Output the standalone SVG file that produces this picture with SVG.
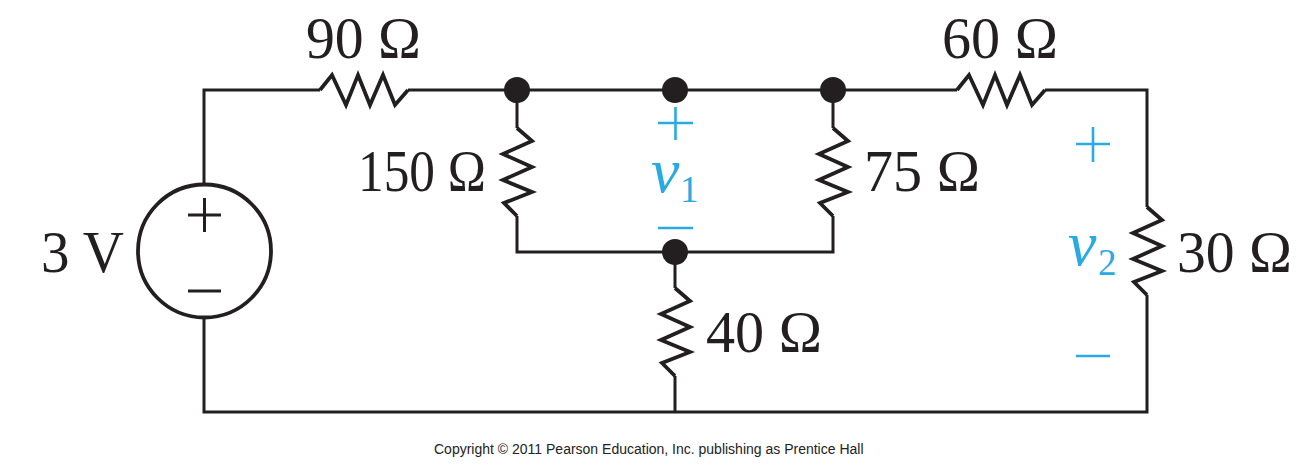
<svg xmlns="http://www.w3.org/2000/svg" width="1299" height="468" viewBox="0 0 1299 468">
<style>
.w{fill:none;stroke:#231f20;stroke-width:3}
.z{fill:none;stroke:#231f20;stroke-width:3.8;stroke-linejoin:miter}
.d{fill:#231f20}
.t{font-family:"Liberation Serif",serif;font-size:60px;fill:#231f20}
.b{stroke:#29abe2;stroke-width:2.6;fill:none}
.v{font-family:"Liberation Serif",serif;font-size:64px;font-style:italic;fill:#29abe2}
.s{font-family:"Liberation Serif",serif;font-size:37px;fill:#29abe2}
.c{font-family:"Liberation Sans",sans-serif;font-size:14px;fill:#222}
</style>
<defs>
<path id="zh" class="z" d="M0 0L12 -15L26 15L38 -15L50 15L63 -15L75 15L88 0"/>
<path id="zv" class="z" d="M0 0L15 13L-14 26L15 39L-14 52L15 64L-13 75L0 88"/>
</defs>
<rect width="1299" height="468" fill="#fff"/>
<g id="connectors" class="w">
<path d="M204 185V90H320M408 90H957M1045 90H1147V207M1147 295V412H204V317"/>
<path d="M517 90V128M517 216V252H833V216M833 128V90M675 252V288M675 376V412"/>
</g>
<g id="r90"><use href="#zh" x="320" y="90"/><text class="t" x="306" y="58" textLength="115" lengthAdjust="spacingAndGlyphs">90 Ω</text></g>
<g id="r60"><use href="#zh" x="957" y="90"/><text class="t" x="942" y="58" textLength="116" lengthAdjust="spacingAndGlyphs">60 Ω</text></g>
<g id="r150"><use href="#zv" x="517" y="128"/><text class="t" x="358" y="191" textLength="128" lengthAdjust="spacingAndGlyphs">150 Ω</text></g>
<g id="r75"><use href="#zv" x="833" y="128"/><text class="t" x="864" y="191" textLength="116" lengthAdjust="spacingAndGlyphs">75 Ω</text></g>
<g id="r40"><use href="#zv" x="675" y="288"/><text class="t" x="706" y="352" textLength="116" lengthAdjust="spacingAndGlyphs">40 Ω</text></g>
<g id="r30"><use href="#zv" x="1147" y="207"/><text class="t" x="1177" y="272" textLength="115" lengthAdjust="spacingAndGlyphs">30 Ω</text></g>
<g id="source"><circle class="z" cx="204.500" cy="251" r="66.500"/><path class="w" stroke-width="2.500" d="M204.500 198V232M188 215H221M188 291H221"/><text class="t" x="41" y="272" textLength="83" lengthAdjust="spacingAndGlyphs">3 V</text></g>
<g id="n1"><circle class="d" cx="517" cy="90" r="13"/></g>
<g id="n2"><circle class="d" cx="675" cy="90" r="13"/></g>
<g id="n3"><circle class="d" cx="833" cy="90" r="13"/></g>
<g id="n4"><circle class="d" cx="675" cy="252" r="13"/></g>
<g id="v1"><path class="b" d="M658 123H693M675.500 107V140M658 228H693"/><text class="v" x="651" y="192">v</text><text class="s" x="680" y="202">1</text></g>
<g id="v2"><path class="b" d="M1076 144H1110M1093 127V162M1076 356H1110"/><text class="v" x="1068" y="265">v</text><text class="s" x="1098" y="275">2</text></g>
<text class="c" x="434" y="454">Copyright © 2011 Pearson Education, Inc. publishing as Prentice Hall</text>
</svg>
